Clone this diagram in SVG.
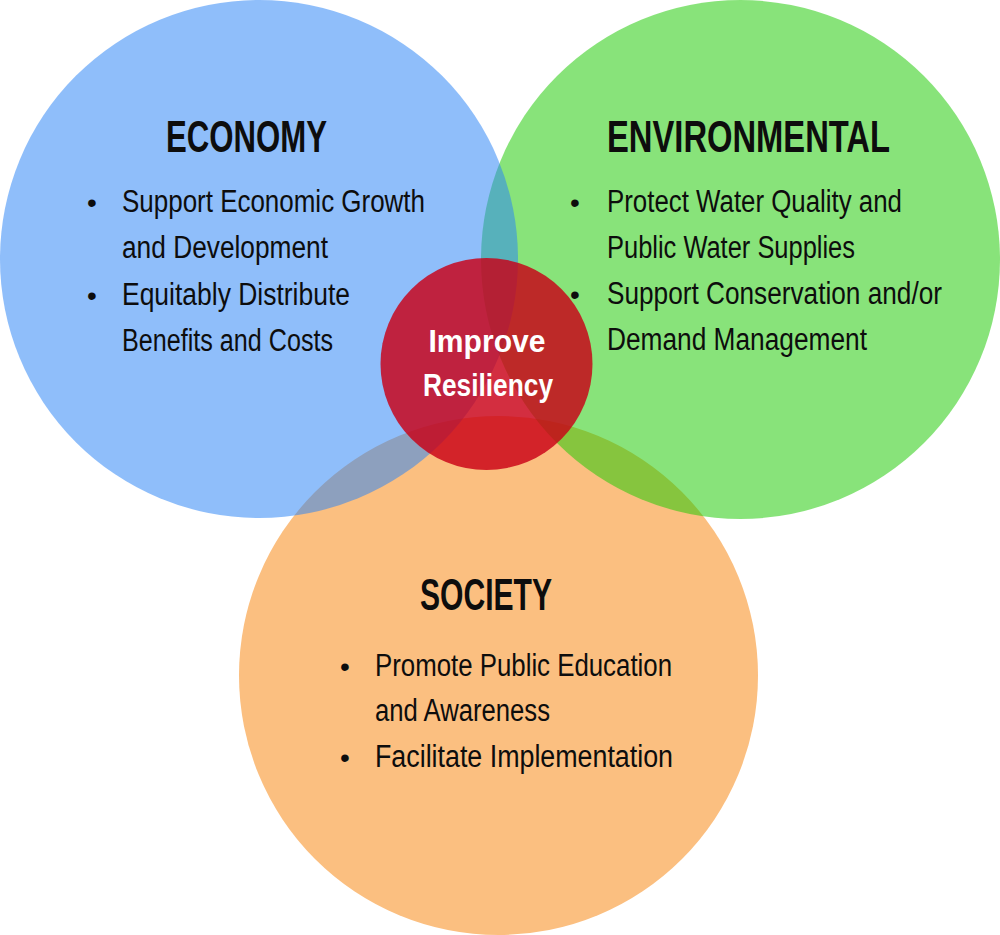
<svg xmlns="http://www.w3.org/2000/svg" width="1000" height="935" viewBox="0 0 1000 935">
<style>
.t{font-family:"Liberation Sans Narrow","Liberation Sans",Arial,sans-serif;fill:#0d0d0d}
.h{font-size:44px;font-weight:bold}
.b{font-size:31px}
.bl{font-size:28px;text-anchor:middle}
.w{font-family:"Liberation Sans Narrow","Liberation Sans",Arial,sans-serif;font-size:32px;font-weight:bold;fill:#ffffff;text-anchor:middle}
</style>
<rect width="1000" height="935" fill="#ffffff"/>
<g id="society-circle"><circle cx="498.5" cy="675.5" r="259.5" fill="#fbbf80"/></g>
<g id="environmental-circle"><circle cx="740.5" cy="259.5" r="259.5" fill="rgb(30,202,4)" fill-opacity="0.53"/></g>
<g id="economy-circle"><circle cx="259" cy="259" r="259" fill="rgb(43,132,245)" fill-opacity="0.53"/></g>
<g id="resiliency">
<circle cx="486.5" cy="364" r="106" fill="rgb(201,0,22)" fill-opacity="0.82"/>
<text class="w" x="487" y="352" textLength="117" lengthAdjust="spacingAndGlyphs">Improve</text>
<text class="w" x="488" y="396" textLength="130" lengthAdjust="spacingAndGlyphs">Resiliency</text>
</g>
<g id="economy">
<text class="t h" x="166" y="152" textLength="161" lengthAdjust="spacingAndGlyphs">ECONOMY</text>
<text class="t bl" x="92" y="212">•</text>
<text class="t b" x="122" y="212" textLength="303" lengthAdjust="spacingAndGlyphs">Support Economic Growth</text>
<text class="t b" x="122" y="258" textLength="206" lengthAdjust="spacingAndGlyphs">and Development</text>
<text class="t bl" x="92" y="305">•</text>
<text class="t b" x="122" y="305" textLength="228" lengthAdjust="spacingAndGlyphs">Equitably Distribute</text>
<text class="t b" x="122" y="351" textLength="211" lengthAdjust="spacingAndGlyphs">Benefits and Costs</text>
</g>
<g id="environmental">
<text class="t h" x="607" y="152" textLength="283" lengthAdjust="spacingAndGlyphs">ENVIRONMENTAL</text>
<text class="t bl" x="575" y="212">•</text>
<text class="t b" x="607" y="212" textLength="295" lengthAdjust="spacingAndGlyphs">Protect Water Quality and</text>
<text class="t b" x="607" y="258" textLength="248" lengthAdjust="spacingAndGlyphs">Public Water Supplies</text>
<text class="t bl" x="575" y="304">•</text>
<text class="t b" x="607" y="304" textLength="335" lengthAdjust="spacingAndGlyphs">Support Conservation and/or</text>
<text class="t b" x="607" y="350" textLength="260" lengthAdjust="spacingAndGlyphs">Demand Management</text>
</g>
<g id="society">
<text class="t h" x="420" y="610" textLength="132" lengthAdjust="spacingAndGlyphs">SOCIETY</text>
<text class="t bl" x="345" y="676">•</text>
<text class="t b" x="375" y="676" textLength="297" lengthAdjust="spacingAndGlyphs">Promote Public Education</text>
<text class="t b" x="375" y="721" textLength="175" lengthAdjust="spacingAndGlyphs">and Awareness</text>
<text class="t bl" x="345" y="767">•</text>
<text class="t b" x="375" y="767" textLength="298" lengthAdjust="spacingAndGlyphs">Facilitate Implementation</text>
</g>
<g id="connectors"></g>
</svg>
